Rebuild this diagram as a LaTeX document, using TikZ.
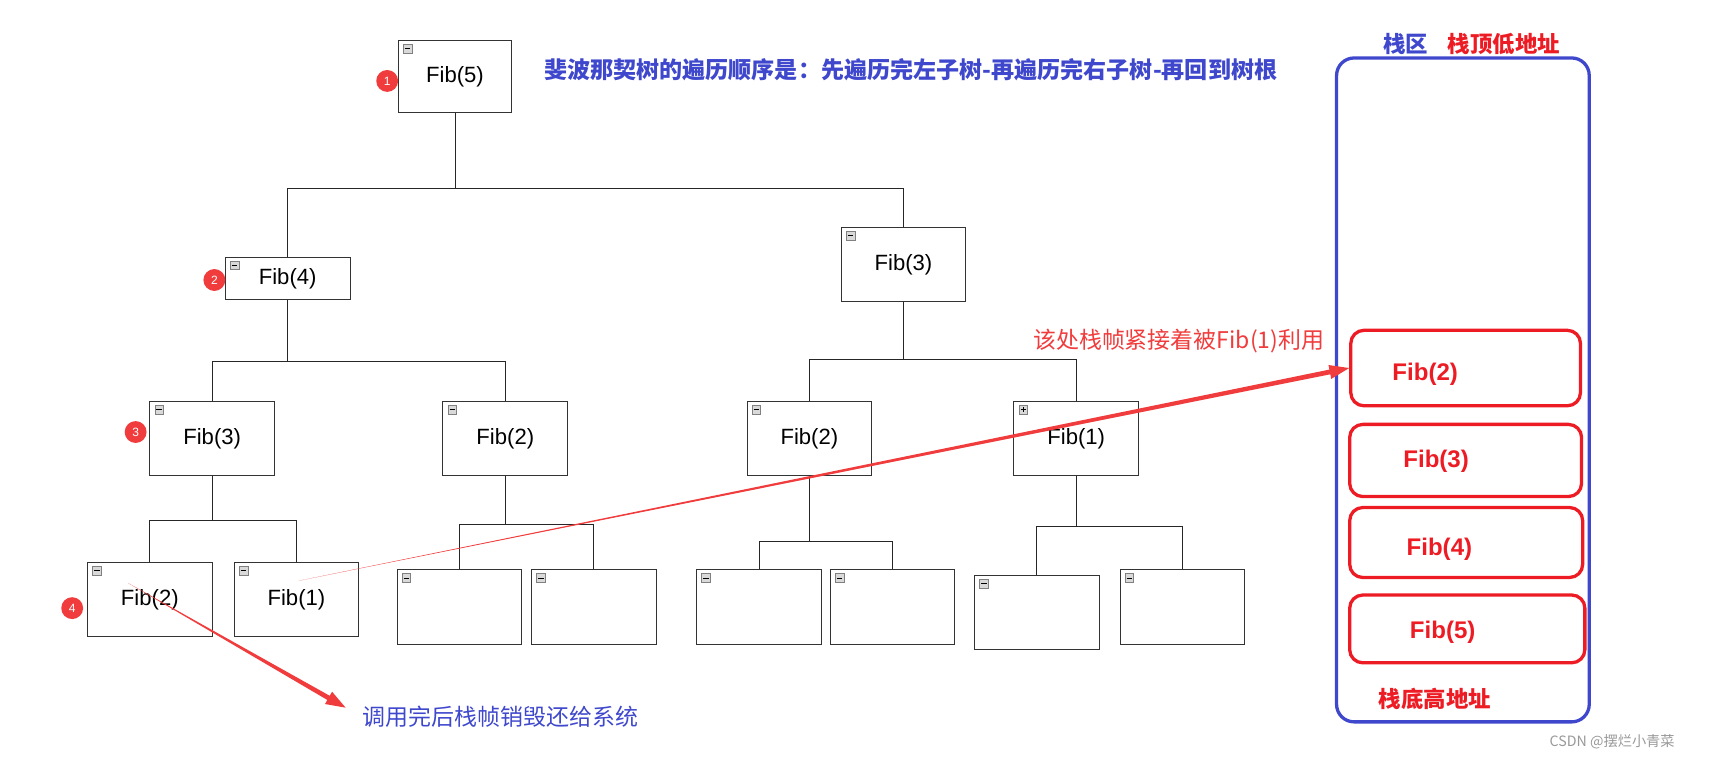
\documentclass[tikz,border=0pt]{standalone}
\usepackage{fontspec}
\setmainfont{Liberation Sans}
\newfontfamily\cjk{Noto Sans CJK SC}
\usetikzlibrary{calc}
\definecolor{tblue}{HTML}{3F48CC}
\definecolor{tred}{HTML}{ED1C24}
\definecolor{ared}{HTML}{F03C3C}
\tikzset{
  fbox/.style={draw=black!80,line width=0.9pt,minimum width=114pt,minimum height=68pt,inner sep=0pt,font=\fontsize{20.2}{23}\selectfont},
  sbox/.style={draw=black!80,line width=0.9pt,minimum width=114pt,minimum height=39pt,inner sep=0pt,font=\fontsize{20.2}{23}\selectfont},
  conn/.style={black!85,line width=0.8pt},
  num/.style={circle,fill=ared,text=white,inner sep=0pt,minimum size=20pt,font=\fontsize{11}{12}\selectfont},
  stk/.style={draw=tred,line width=3pt,rounded corners=12pt,minimum width=210pt,inner sep=0pt},
  stxt/.style={text=tred,font=\fontsize{22}{25}\selectfont\bfseries},
}
\newcommand{\minusicon}[1]{\draw[fill=black!15,draw=black!50,line width=0.5pt] ($(#1.north west)+(5,4)$) rectangle +(8,8); \draw[line width=0.8pt] ($(#1.north west)+(6.5,8)$) -- +(5,0);}
\newcommand{\plusicon}[1]{\draw[fill=black!15,draw=black!50,line width=0.5pt] ($(#1.north west)+(5,4)$) rectangle +(8,8); \draw[line width=0.8pt] ($(#1.north west)+(6.5,8)$) -- +(5,0) ($(#1.north west)+(9,5.5)$) -- +(0,5);}
\newcommand{\taper}[2]{\fill[ared] (#1) -- ($($(#2)!18pt!(#1)$)!2.2pt!90:(#1)$) -- ($($(#2)!18pt!(#1)$)!6.5pt!90:(#1)$) -- (#2) -- ($($(#2)!18pt!(#1)$)!6.5pt!-90:(#1)$) -- ($($(#2)!18pt!(#1)$)!2.2pt!-90:(#1)$) -- cycle;}
\begin{document}
\begin{tikzpicture}[x=1pt,y=-1pt]
\useasboundingbox (0,0) rectangle (1568,695);
% tree nodes
\node[fbox,minimum width=104pt,minimum height=66pt] (f5) at (416,70) {Fib(5)};
\node[sbox] (f4) at (263,254.5) {Fib(4)};
\node[fbox] (f3t) at (826,242) {Fib(3)};
\node[fbox] (f3) at (194,401) {Fib(3)};
\node[fbox] (f2m) at (462,401) {Fib(2)};
\node[fbox] (f2r) at (740,401) {Fib(2)};
\node[fbox] (f1r) at (984,401) {Fib(1)};
\node[fbox] (l1) at (137,548) {Fib(2)};
\node[fbox] (l2) at (271,548) {Fib(1)};
\node[fbox] (l3) at (420,555) {};
\node[fbox] (l4) at (543,555) {};
\node[fbox] (l5) at (694,555) {};
\node[fbox] (l6) at (816,555) {};
\node[fbox] (l7) at (948,560) {};
\node[fbox] (l8) at (1081,555) {};
\foreach \n in {f5,f4,f3t,f3,f2m,f2r,l1,l2,l3,l4,l5,l6,l7,l8} {\minusicon{\n}}
\plusicon{f1r}
% connectors
\draw[conn] (f5.south) -- ++(0,69) -| (f4.north);
\draw[conn] (f5.south) ++(0,69) -| (f3t.north);
\draw[conn] (f4.south) -- ++(0,56) -| (f3.north);
\draw[conn] (f4.south) ++(0,56) -| (f2m.north);
\draw[conn] (f3t.south) -- ++(0,52) -| (f2r.north);
\draw[conn] (f3t.south) ++(0,52) -| (f1r.north);
\draw[conn] (f3.south) -- ++(0,40) -| (l1.north);
\draw[conn] (f3.south) ++(0,40) -| (l2.north);
\draw[conn] (f2m.south) -- ++(0,44) -| (l3.north);
\draw[conn] (f2m.south) ++(0,44) -| (l4.north);
\draw[conn] (f2r.south) -- ++(0,60) -| (l5.north);
\draw[conn] (f2r.south) ++(0,60) -| (l6.north);
\draw[conn] (f1r.south) -- ++(0,46) -| (l7.north);
\draw[conn] (f1r.south) ++(0,46) -| (l8.north);
% numbers
\node[num] (n1) at (354,74) {1};
\node[num] (n2) at (196,256) {2};
\node[num] (n3) at (124,395) {3};
\node[num] (n4) at (66,556) {4};
% texts
\node[anchor=west,text=tblue,font=\cjk\fontsize{21.1}{24}\selectfont\bfseries] (title) at (494,64) {斐波那契树的遍历顺序是：先遍历完左子树-再遍历完右子树-再回到树根};
\node[anchor=west,text=ared,font=\cjk\fontsize{21}{24}\selectfont] (reuse) at (941,312) {该处栈帧紧接着被Fib(1)利用};
\node[anchor=west,text=tblue,font=\cjk\fontsize{21}{24}\selectfont] (free) at (328,655) {调用完后栈帧销毁还给系统};
% stack
\node[draw=tblue,line width=3pt,rounded corners=16pt,minimum width=231pt,minimum height=607pt,inner sep=0pt] (stack) at (1337.5,356.5) {};
\node[text=tblue,font=\cjk\fontsize{20.5}{23}\selectfont\bfseries] (sq) at (1285,40) {栈区};
\node[text=tred,font=\cjk\fontsize{20.5}{23}\selectfont\bfseries] (top) at (1375,40) {栈顶低地址};
\node[text=tred,font=\cjk\fontsize{20.5}{23}\selectfont\bfseries] (bot) at (1312,639) {栈底高地址};
\node[stk,minimum height=69pt] (s2) at (1340,336.5) {};
\node[stk,minimum height=66pt,minimum width=212pt] (s3) at (1340,421) {};
\node[stk,minimum height=64pt,minimum width=213pt] (s4) at (1340.5,496) {};
\node[stk,minimum height=62pt,minimum width=215pt] (s5) at (1341.5,575) {};
\node[stxt] at (1303,342) {Fib(2)};
\node[stxt] at (1313,422) {Fib(3)};
\node[stxt] at (1316,502) {Fib(4)};
\node[stxt] at (1319,578) {Fib(5)};
% arrows
\coordinate (a1s) at (273,531);
\coordinate (a1t) at (s2.west);
\taper{a1s}{a1t}
\coordinate (a2s) at (117,533);
\coordinate (a2t) at (316,647);
\taper{a2s}{a2t}
\node[text=black!40,font=\cjk\fontsize{13}{15}\selectfont] (wm) at (1474,678) {CSDN @摆烂小青菜};
\end{tikzpicture}
\end{document}
